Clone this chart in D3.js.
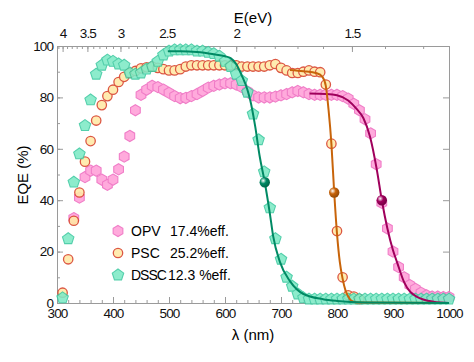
<!DOCTYPE html>
<html>
<head>
<meta charset="utf-8">
<script src="https://cdn.jsdelivr.net/npm/d3@7"></script>
<style>
  body { margin: 0; background: #fff; }
  svg { font-family: "Liberation Sans", Arial, sans-serif; }
  .tick text { font-size: 13.5px; letter-spacing: -0.9px; fill: #111; }
  .ax path, .ax line { stroke: #9a9a9a; }
</style>
</head>
<body>
<div id="viz"></div>
<script>
// wavelength grid of the measured points (nm)
const wavelengths = [310, 320, 330, 340, 350, 360, 370, 380, 390, 400,
  410, 420, 430, 440, 450, 460, 470, 480, 490, 500,
  510, 520, 530, 540, 550, 560, 570, 580, 590, 600,
  610, 620, 630, 640, 650, 660, 670, 680, 690, 700,
  710, 720, 730, 740, 750, 760, 770, 780, 790, 800,
  810, 820, 830, 840, 850, 860, 870, 880, 890, 900,
  910, 920, 930, 940, 950, 960, 970, 980, 990, 1000]

const opvEqe = [null, null, 33, 41, 49, 51.5, 51.5, 48, 46, 48,
  52, 57, 65, 75, 81, 83, 84.5, 84, 83, 81.8,
  80.5, 79.7, 79.8, 80.5, 81.3, 82.5, 83.8, 84.5, 85, 85.5,
  85.5, 85, 84, 82.3, 80.8, 80, 80, 80, 80.3, 80.8,
  81.3, 82, 82.5, 82, 81.3, 81, 81, 81, 81, 81,
  80.5, 79.5, 77.5, 75, 71.5, 66, 54, 39, 29, 20,
  14, 10, 7, 5.5, 4, 3, 2.5, 2.5, 2.3, 2.3]

const pscEqe = [4, 17, 32, 43, 55, 63, 71, 77, 80.5, 83,
  86, 88, 89.5, 90.3, 91.3, 91.7, 92, 91.5, 91, 90.5,
  90.5, 91, 92, 92.5, 92.5, 92.5, 92.5, 92.5, 92.5, 92.5,
  92.5, 92.5, 92, 92, 92, 92, 92, 92.5, 93, 91.5,
  90.5, 89.5, 89.5, 90, 90.5, 90, 89.8, 85, 62, 28,
  10, 3, 2.5, 1.5, null, null, null, null, null, null,
  null, null, null, null, null, null, null, null, null, null]

const dsscEqe = [2, 25, 47, 58, 69, 79, 89, 92.5, 94.5, 94,
  93, 92.5, 89.5, 89, 89.5, 91, 92, 94, 96.5, 98,
  98.5, 98.5, 98.5, 98.5, 98, 98, 97.5, 97, 96, 94,
  92, 89, 86.5, 82, 73.5, 63.5, 51, 37, 25, 17,
  10, 6.5, 3.5, 2, 1.5, 1.5, 1.5, 1.5, 1.5, 1.5,
  1.5, 1.5, 1.5, 1.5, 1.5, 1.5, 1.5, 1.5, 1.5, 1.5,
  1.5, 1.5, 1.5, 1.5, 1.5, 1.5, 1.5, 1.5, 1.5, 1.5]

// fitted curves
const opvFitWl = [751, 780, 800, 820, 835, 847, 859, 871, 880, 890, 900, 907, 920, 942, 972, 1000]
const opvFitEqe = [81.5, 81.3, 80.8, 78.8, 75.5, 72, 64.7, 52, 40, 29, 20.5, 16, 8, 2.5, 0.5, 0]
const pscFitWl = [716, 740, 764, 774, 780, 785, 790, 795, 800, 805, 810, 815, 820, 826, 835, 1000]
const pscFitEqe = [90.7, 90.2, 89.4, 88, 84.5, 75, 62, 43, 27, 16, 9.5, 5, 2.5, 0.8, 0.2, 0]
const dsscFitWl = [498, 520, 550, 580, 600, 610, 620, 630, 640, 645, 654, 662, 671, 680, 686, 698, 716, 740, 775, 800, 850, 1000]
const dsscFitEqe = [98, 98, 97.7, 96.8, 96, 95.3, 93, 88.5, 83, 79, 68.6, 57, 47, 35, 26, 16, 8.5, 3.5, 1.5, 0.8, 0.2, 0]

// half-height markers
const halfWl = [880, 795, 671]
const halfEqe = [40, 43, 47]

const legendNames = ["OPV", "PSC", "DSSC"]
const legendEff = ["17.4%eff.", "25.2%eff.", "12.3 %eff."]

const xTicks = [300, 400, 500, 600, 700, 800, 900, 1000]
const yTicks = [0, 20, 40, 60, 80, 100]
const eTicks = [4, 3.5, 3, 2.5, 2, 1.5]

const width = 474, height = 362
const L = 57, R = 449, T = 46, B = 303

const svg = d3.select("#viz").append("svg")
    .attr("width", width)
    .attr("height", height)

const x = d3.scaleLinear().domain([300, 1000]).range([L, R])
const y = d3.scaleLinear().domain([0, 100]).range([B, T])
// photon energy E = 1240/lambda, linear in 1/E
const eScale = d3.scalePow().exponent(-1).domain([1240 / 300, 1240 / 1000]).range([L, R])

// frame + axes
svg.append("g").attr("class", "ax")
    .attr("transform", `translate(0,${B})`)
    .call(d3.axisBottom(x).tickValues(d3.range(300, 1001, 20)).tickSize(-3).tickFormat(""))
svg.append("g").attr("class", "ax")
    .attr("transform", `translate(0,${B})`)
    .call(d3.axisBottom(x).tickValues(xTicks).tickSize(-6).tickPadding(5).tickFormat(d3.format("d")))

svg.append("g").attr("class", "ax")
    .attr("transform", `translate(${L},0)`)
    .call(d3.axisLeft(y).tickValues(d3.range(0, 101, 10)).tickSize(-3).tickFormat(""))
svg.append("g").attr("class", "ax")
    .attr("transform", `translate(${L},0)`)
    .call(d3.axisLeft(y).tickValues(yTicks).tickSize(-6).tickPadding(4))

svg.append("g").attr("class", "ax")
    .attr("transform", `translate(${R},0)`)
    .call(d3.axisRight(y).tickValues(yTicks).tickSize(-6).tickFormat(""))

svg.append("g").attr("class", "ax")
    .attr("transform", `translate(0,${T})`)
    .call(d3.axisTop(eScale).tickValues(d3.range(13, 42).map(d => d / 10)).tickSize(-3).tickFormat(""))
svg.append("g").attr("class", "ax")
    .attr("transform", `translate(0,${T})`)
    .call(d3.axisTop(eScale).tickValues(eTicks).tickSize(-6).tickPadding(8).tickFormat(d => d))

svg.selectAll(".ax .domain").attr("stroke", "#9a9a9a")

// axis titles
svg.append("text").attr("x", (L + R) / 2).attr("y", 23)
    .attr("text-anchor", "middle").attr("font-size", 15).text("E(eV)")
svg.append("text").attr("x", (L + R) / 2).attr("y", 340)
    .attr("text-anchor", "middle").attr("font-size", 15).text("λ (nm)")
svg.append("text").attr("transform", "translate(28,175) rotate(-90)")
    .attr("text-anchor", "middle").attr("font-size", 15).text("EQE (%)")

// marker shapes
function polygon(n, r, rot) {
    const pts = d3.range(n).map(i => {
        const a = rot + i * 2 * Math.PI / n
        return [r * Math.cos(a), r * Math.sin(a)]
    })
    return "M" + pts.join("L") + "Z"
}
const hexPath = polygon(6, 5.6, -Math.PI / 2)
const pentPath = polygon(5, 6, -Math.PI / 2)

const styles = {
    OPV: { fill: "#ff9fd8", stroke: "#ef6cc0", line: "#a0005c" },
    PSC: { fill: "#ffe9a6", stroke: "#d8402a", line: "#c8640a" },
    DSSC: { fill: "#7eeac6", stroke: "#3cc9a0", line: "#008a64" }
}

function addMarker(g, name) {
    const s = styles[name]
    if (name == "PSC") {
        return g.append("circle").attr("r", 4.7)
            .attr("fill", s.fill).attr("stroke", s.stroke).attr("stroke-width", 1.3)
    }
    return g.append("path").attr("d", name == "OPV" ? hexPath : pentPath)
        .attr("fill", s.fill).attr("stroke", s.stroke).attr("stroke-width", 1.1)
}

const series = [["OPV", opvEqe], ["PSC", pscEqe], ["DSSC", dsscEqe]]
series.forEach(([name, vals]) => {
    const pts = wavelengths.map((w, i) => [w, vals[i]]).filter(p => p[1] != null)
    const g = svg.append("g").attr("opacity", 0.88)
    pts.forEach(p => {
        addMarker(g.append("g").attr("transform", `translate(${x(p[0])},${y(p[1])})`), name)
    })
})

// fitted curves
const line = d3.line().x(d => x(d[0])).y(d => y(d[1])).curve(d3.curveMonotoneX)
const fits = [["OPV", opvFitWl, opvFitEqe], ["PSC", pscFitWl, pscFitEqe], ["DSSC", dsscFitWl, dsscFitEqe]]
fits.forEach(([name, wl, eqe]) => {
    svg.append("path")
        .datum(wl.map((w, i) => [w, eqe[i]]))
        .attr("d", line)
        .attr("fill", "none")
        .attr("stroke", styles[name].line)
        .attr("stroke-width", 2)
})

// shaded balls at half height
const defs = svg.append("defs")
legendNames.forEach((name, i) => {
    const grad = defs.append("radialGradient").attr("id", "ball" + i)
        .attr("cx", "35%").attr("cy", "35%").attr("r", "65%")
    grad.append("stop").attr("offset", "0%").attr("stop-color", "#ffffff")
    grad.append("stop").attr("offset", "45%").attr("stop-color", styles[name].line)
    grad.append("stop").attr("offset", "100%").attr("stop-color", d3.color(styles[name].line).darker(0.8))
    svg.append("circle")
        .attr("cx", x(halfWl[i]))
        .attr("cy", y(halfEqe[i]))
        .attr("r", 5.2)
        .attr("fill", `url(#ball${i})`)
})

// legend
const legend = svg.append("g").attr("transform", "translate(118,231)")
legendNames.forEach((name, i) => {
    const row = legend.append("g").attr("transform", `translate(0,${i * 22})`)
    addMarker(row.append("g").attr("opacity", 0.88), name)
    row.append("text").attr("x", 13).attr("y", 5).attr("font-size", 14)
        .attr("letter-spacing", name == "DSSC" ? -1 : 0).text(name)
    row.append("text").attr("x", name == "DSSC" ? 50 : 52).attr("y", 5).attr("font-size", 14).text(legendEff[i])
})
</script>
</body>
</html>
